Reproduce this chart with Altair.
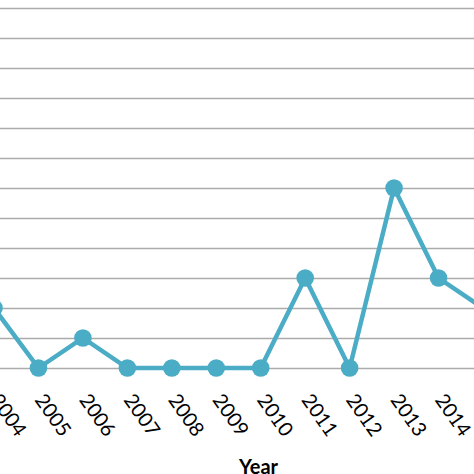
import altair as alt
import pandas as pd

years = [2004, 2005, 2006, 2007, 2008, 2009, 2010, 2011, 2012, 2013, 2014, 2015]
values = [2, 0, 1, 0, 0, 0, 0, 3, 0, 6, 3, 2]

df = pd.DataFrame({"Year": years, "Value": values})

color = "#4bacc6"

x = alt.X(
    "Year:Q",
    scale=alt.Scale(domain=[2004, 2015], nice=False, zero=False),
    axis=alt.Axis(
        title="Year",
        values=years,
        format="d",
        grid=False,
        domain=False,
        ticks=False,
        labelAngle=55,
        labelAlign="left",
        labelBaseline="middle",
        labelPadding=28,
        labelFont="Lato",
        labelFontSize=20,
        labelColor="#000000",
        labelOverlap=False,
        labelBound=False,
        labelFlush=False,
        titleFont="Lato",
        titleFontSize=20,
        titleFontWeight="bold",
        titleColor="#000000",
        titleX=264,
        titleY=99,
        titleBaseline="middle",
        titleAlign="center",
    ),
)
y = alt.Y(
    "Value:Q",
    scale=alt.Scale(domain=[0, 12], nice=False),
    axis=alt.Axis(
        title=None,
        values=list(range(0, 13)),
        labels=False,
        ticks=False,
        domain=False,
        grid=True,
        gridColor="#ababab",
        gridWidth=1.6,
    ),
)

base = alt.Chart(df).encode(x=x, y=y)
line = base.mark_line(color=color, strokeWidth=4.5)
points = base.mark_circle(color=color, size=310, opacity=1)

chart = (
    alt.layer(line, points)
    .properties(
        width=489,
        height=360,
        padding={"left": -6, "top": 8, "right": -9, "bottom": 106},
        autosize=alt.AutoSizeParams(type="none"),
    )
    .configure_view(stroke=None)
    .configure(background="white")
)

chart.save("out.html", embed_options={"renderer": "svg", "actions": False})
